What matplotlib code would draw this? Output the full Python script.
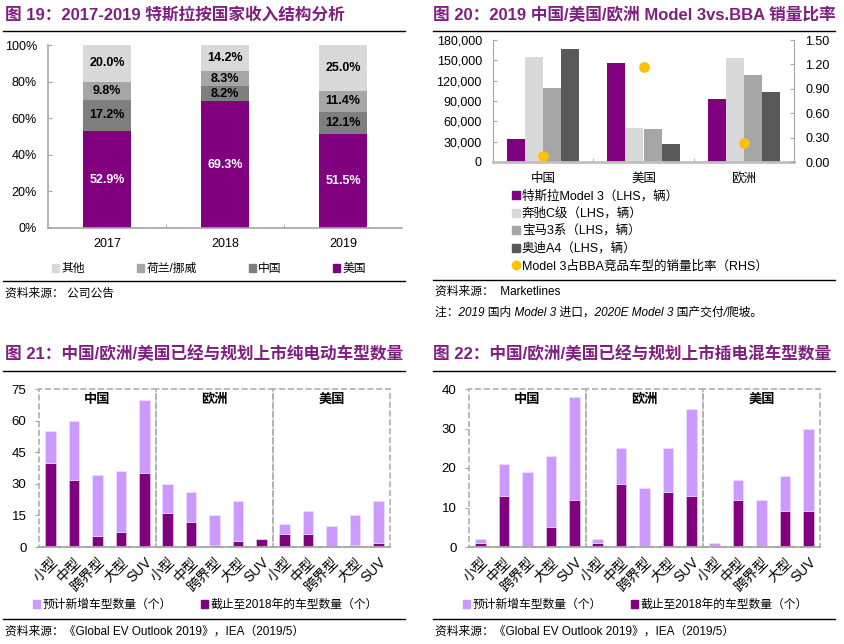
import matplotlib
matplotlib.use('Agg')
import matplotlib.pyplot as plt
from matplotlib.patches import Patch, Rectangle
from matplotlib.lines import Line2D

plt.rcParams['font.family'] = ['Liberation Sans', 'Noto Sans CJK SC']
plt.rcParams['axes.unicode_minus'] = False

W, H = 844, 644
PURPLE = '#800080'
LILAC = '#CC99FF'
TITLE_C = '#7F1F7F'
SPINE = '#A6A6A6'

# fig 19 - revenue share by country (%)
years = ['2017', '2018', '2019']
rev_us = [52.9, 69.3, 51.5]
rev_cn = [17.2, 8.2, 12.1]
rev_nl = [9.8, 8.3, 11.4]
rev_other = [20.0, 14.2, 25.0]

# fig 20 - 2019 sales
markets = ['中国', '美国', '欧洲']
model3 = [33500, 146000, 93500]
benz_c = [155000, 50000, 153000]
bmw_3 = [109000, 48000, 128000]
audi_a4 = [167000, 26500, 104000]
ratio = [0.07, 1.17, 0.23]

# fig 21 / 22 - model counts
segments = ['小型', '中型', '跨界型', '大型', 'SUV']
regions = ['中国', '欧洲', '美国']
bev_exist = [40, 32, 5, 7, 35, 16, 12, 1, 3, 4, 6, 6, 0, 1, 2]
bev_total = [55, 60, 34, 36, 70, 30, 26, 15, 22, 4, 11, 17, 10, 15, 22]
phev_exist = [1, 13, 0, 5, 12, 1, 16, 0, 14, 13, 0, 12, 0, 9, 9]
phev_total = [2, 21, 19, 23, 38, 2, 25, 15, 25, 35, 1, 17, 12, 18, 30]

fig = plt.figure(figsize=(W / 100, H / 100), dpi=100)


def fx(x):
    return x / W


def fy(y):
    return 1 - y / H


def add_ax(l, t, r, b):
    return fig.add_axes([l / W, 1 - b / H, (r - l) / W, (b - t) / H])


def hline(y, x0, x1):
    fig.add_artist(Line2D([fx(x0), fx(x1)], [fy(y), fy(y)], color='black', lw=1.0))


def title(x, y, s):
    fig.text(fx(x), fy(y), s, fontsize=12, fontweight='bold', color=TITLE_C, va='center')


def source(x, y, s, **kw):
    fig.text(fx(x), fy(y), s, fontsize=8.5, va='center', **kw)


# ---------------- fig 19 ----------------
title(5, 15, '图 19：2017-2019 特斯拉按国家收入结构分析')
hline(31, 3, 405)
ax1 = add_ax(48, 45, 402, 228)
x = list(range(3))
bw = 0.41
b2 = [a + b for a, b in zip(rev_us, rev_cn)]
b3 = [a + b for a, b in zip(b2, rev_nl)]
c1 = ax1.bar(x, rev_us, bw, color=PURPLE)
c2 = ax1.bar(x, rev_cn, bw, bottom=rev_us, color='#7F7F7F')
c3 = ax1.bar(x, rev_nl, bw, bottom=b2, color='#A6A6A6')
c4 = ax1.bar(x, rev_other, bw, bottom=b3, color='#D9D9D9')
ax1.bar_label(c1, fmt='%.1f%%', label_type='center', fontsize=9, fontweight='bold', color='white')
for c in (c2, c3, c4):
    ax1.bar_label(c, fmt='%.1f%%', label_type='center', fontsize=9, fontweight='bold', color='black')
ax1.set_xlim(-0.5, 2.5)
ax1.set_ylim(0, 100)
ax1.set_yticks(range(0, 101, 20))
ax1.set_yticklabels([f'{v}%' for v in range(0, 101, 20)])
ax1.set_xticks(x)
ax1.set_xticklabels(years)
ax1.set_xticks([0.5, 1.5], minor=True)
ax1.tick_params(axis='x', which='major', length=0, pad=7, labelsize=9)
ax1.tick_params(axis='x', which='minor', direction='in', length=3, color=SPINE)
ax1.tick_params(axis='y', direction='in', length=3, color=SPINE, pad=8, labelsize=9)
for s in ('top', 'right'):
    ax1.spines[s].set_visible(False)
for s in ('left', 'bottom'):
    ax1.spines[s].set_color(SPINE)
    ax1.spines[s].set_linewidth(1.2)
fig.legend(handles=[Patch(color='#D9D9D9', label='其他'),
                    Patch(color='#A6A6A6', label='荷兰/挪威'),
                    Patch(color='#7F7F7F', label='中国'),
                    Patch(color=PURPLE, label='美国')],
           loc='center left', bbox_to_anchor=(fx(52), fy(269)), ncol=4, frameon=False,
           handlelength=0.6, handleheight=0.6, handletextpad=0.2, columnspacing=4.4,
           fontsize=8.5, borderaxespad=0, borderpad=0)
hline(281, 3, 405)
source(5, 294, '资料来源： 公司公告')

# ---------------- fig 20 ----------------
title(433, 15, '图 20：2019 中国/美国/欧洲 Model 3vs.BBA 销量比率')
hline(31, 433, 835)
ax2 = add_ax(493, 40, 794, 162)
w = 0.18
series = [(model3, PURPLE), (benz_c, '#D9D9D9'), (bmw_3, '#A6A6A6'), (audi_a4, '#595959')]
for k, (vals, col) in enumerate(series):
    ax2.bar([i + (k - 1.5) * w for i in x], vals, w, color=col, zorder=2)
ax2.set_xlim(-0.5, 2.5)
ax2.set_ylim(0, 180000)
ax2.set_yticks(range(0, 180001, 30000))
ax2.set_yticklabels([f'{v:,}' for v in range(0, 180001, 30000)])
ax2.set_xticks(x)
ax2.set_xticklabels(markets)
ax2.set_xticks([0.5, 1.5], minor=True)
ax2.tick_params(axis='x', which='major', length=0, pad=8, labelsize=9)
ax2.tick_params(axis='x', which='minor', direction='in', length=3, color=SPINE)
ax2.tick_params(axis='y', direction='in', length=3, color=SPINE, pad=8, labelsize=9)
ax2r = ax2.twinx()
ax2r.scatter(x, ratio, s=45, color='#FFC000', zorder=3)
ax2r.set_ylim(0, 1.5)
ax2r.set_yticks([0, 0.3, 0.6, 0.9, 1.2, 1.5])
ax2r.set_yticklabels([f'{v:.2f}' for v in [0, 0.3, 0.6, 0.9, 1.2, 1.5]])
ax2r.tick_params(axis='y', direction='in', length=3, color=SPINE, pad=8, labelsize=9)
for a in (ax2, ax2r):
    a.spines['top'].set_visible(False)
ax2.spines['right'].set_visible(False)
ax2r.spines['left'].set_visible(False)
ax2r.spines['bottom'].set_visible(False)
ax2.spines['left'].set_color(SPINE)
ax2r.spines['right'].set_color(SPINE)
ax2.spines['bottom'].set_color('#C0C0C0')
ax2.spines['bottom'].set_linewidth(2)
fig.legend(handles=[Patch(color=PURPLE, label='特斯拉Model 3（LHS，辆）'),
                    Patch(color='#D9D9D9', label='奔驰C级（LHS，辆）'),
                    Patch(color='#A6A6A6', label='宝马3系（LHS，辆）'),
                    Patch(color='#595959', label='奥迪A4（LHS，辆）'),
                    Line2D([], [], ls='', marker='o', markersize=6, color='#FFC000',
                           label='Model 3占BBA竞品车型的销量比率（RHS）')],
           loc='upper left', bbox_to_anchor=(fx(512), fy(190)), ncol=1, frameon=False,
           handlelength=0.6, handleheight=0.6, handletextpad=0.2, labelspacing=0.42,
           fontsize=9, borderaxespad=0, borderpad=0)
hline(280, 433, 835)
source(435, 292, '资料来源：  Marketlines')
source(435, 313, '注：2019 国内 Model 3 进口，2020E Model 3 国产交付/爬坡。', style='italic')


# ---------------- fig 21 / 22 ----------------
def count_panel(ax, exist, total, ymax, ystep):
    pos = list(range(len(exist)))
    new = [t - e for t, e in zip(total, exist)]
    ax.bar(pos, exist, 0.45, color=PURPLE, edgecolor='#E8D8E8', lw=0.4)
    ax.bar(pos, new, 0.45, bottom=exist, color=LILAC, edgecolor='#F0E6FF', lw=0.4)
    ax.set_xlim(-0.5, len(exist) - 0.5)
    ax.set_ylim(0, ymax)
    ax.set_yticks(range(0, ymax + 1, ystep))
    ax.set_xticks(pos)
    ax.set_xticklabels(segments * 3, rotation=45, ha='right', rotation_mode='anchor')
    ax.tick_params(axis='x', length=0, pad=6, labelsize=10)
    ax.tick_params(axis='y', length=3, color=SPINE, pad=6, labelsize=9.5)
    for k, name in enumerate(regions):
        ax.add_patch(Rectangle((k * 5 - 0.5, 0), 5, ymax, fill=False, ls='--',
                               ec='#B0B0B0', lw=1.2, clip_on=False))
        ax.text(k * 5 + 2, ymax * 0.93, name, ha='center', va='center',
                fontsize=9.5, fontweight='bold')
    for s in ('top', 'right', 'left'):
        ax.spines[s].set_visible(False)
    ax.spines['bottom'].set_color(SPINE)
    ax.spines['bottom'].set_linewidth(1.2)


def count_legend(x0):
    fig.legend(handles=[Patch(color=LILAC, label='预计新增车型数量（个）'),
                        Patch(color=PURPLE, label='截止至2018年的车型数量（个）')],
               loc='center left', bbox_to_anchor=(fx(x0), fy(605)), ncol=2, frameon=False,
               handlelength=0.6, handleheight=0.6, handletextpad=0.2, columnspacing=2.5,
               fontsize=8.5, borderaxespad=0, borderpad=0)


title(5, 354, '图 21：中国/欧洲/美国已经与规划上市纯电动车型数量')
hline(371, 3, 405)
ax3 = add_ax(39, 389, 390, 547)
count_panel(ax3, bev_exist, bev_total, 75, 15)
count_legend(33)
hline(619, 3, 405)
source(5, 632, '资料来源：《Global EV Outlook 2019》，IEA（2019/5）')

title(433, 354, '图 22：中国/欧洲/美国已经与规划上市插电混车型数量')
hline(371, 433, 835)
ax4 = add_ax(469, 389, 820, 547)
count_panel(ax4, phev_exist, phev_total, 40, 10)
count_legend(463)
hline(619, 433, 835)
source(435, 632, '资料来源：《Global EV Outlook 2019》，IEA（2019/5）')

fig.savefig('out.png', dpi=100)
